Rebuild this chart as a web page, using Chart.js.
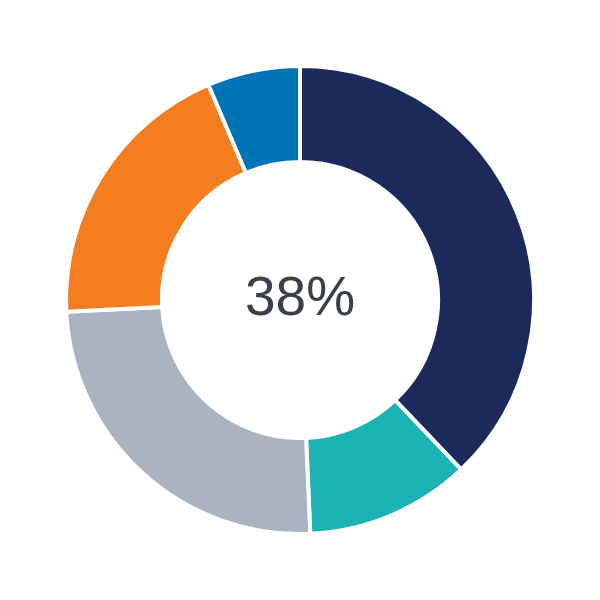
<!DOCTYPE html>
<html>
<head>
<meta charset="utf-8">
<script src="https://cdn.jsdelivr.net/npm/chart.js@4"></script>
<style>
  html, body { margin: 0; padding: 0; background: #fff; }
  #wrap { width: 600px; height: 600px; }
</style>
</head>
<body>
<div id="wrap"><canvas id="donut" width="600" height="600"></canvas></div>
<script>
// segment values, clockwise from 12 o'clock
const labels = ['Segment A', 'Segment B', 'Segment C', 'Segment D', 'Segment E'];
const values = [37.9, 11.4, 24.9, 19.4, 6.4];
const colors = ['#1b2a5b', '#1bb3b6', '#a9b3c1', '#f47d20', '#0174b6'];
const centerLabel = '38%';

// draws the big percentage in the hole
const centerText = {
  id: 'centerText',
  afterDraw(chart) {
    const meta = chart.getDatasetMeta(0);
    if (!meta.data.length) return;
    const { x, y } = meta.data[0];
    const ctx = chart.ctx;
    ctx.save();
    ctx.font = '55px "Liberation Sans", Arial, sans-serif';
    ctx.fillStyle = '#3b4049';
    ctx.textAlign = 'center';
    ctx.textBaseline = 'middle';
    ctx.fillText(centerLabel, x, y);
    ctx.restore();
  }
};

new Chart(document.getElementById('donut'), {
  type: 'doughnut',
  data: {
    labels: labels,
    datasets: [{
      data: values,
      backgroundColor: colors,
      borderColor: '#ffffff',
      borderWidth: 4,
    }],
  },
  options: {
    responsive: false,
    animation: false,
    cutout: '59%',
    layout: { padding: 64 },
    plugins: {
      legend: { display: false },
      tooltip: { enabled: false },
    },
  },
  plugins: [centerText],
});
</script>
</body>
</html>
